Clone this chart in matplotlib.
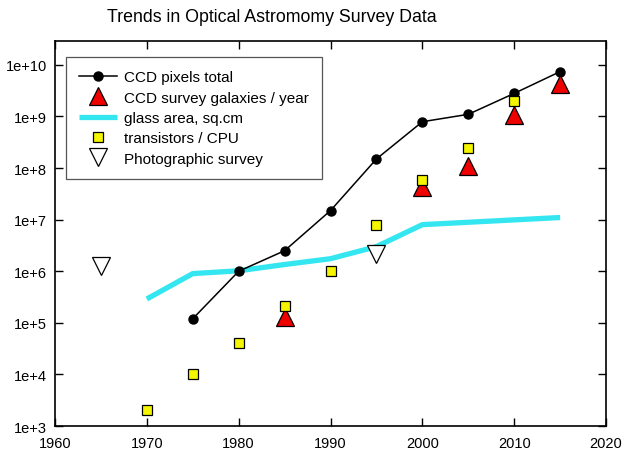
import matplotlib.pyplot as plt
from matplotlib.ticker import FixedLocator

plt.rcParams['font.family'] = ['Liberation Sans', 'DejaVu Sans']

ccd_years = [1975, 1980, 1985, 1990, 1995, 2000, 2005, 2010, 2015]
ccd_pixels = [1.2e5, 1.0e6, 2.5e6, 1.5e7, 1.5e8, 7.9e8, 1.1e9, 2.8e9, 7.4e9]

gal_years = [1985, 2000, 2005, 2010, 2015]
gal_per_year = [1.3e5, 4.2e7, 1.08e8, 1.05e9, 4.2e9]

glass_years = [1970, 1975, 1980, 1985, 1990, 1995, 2000, 2015]
glass_area = [2.9e5, 9.0e5, 1.02e6, 1.35e6, 1.75e6, 3.0e6, 8.0e6, 1.1e7]

trans_years = [1970, 1975, 1980, 1985, 1990, 1995, 2000, 2005, 2010]
trans_cpu = [2.0e3, 1.0e4, 4.1e4, 2.1e5, 1.0e6, 8.0e6, 5.9e7, 2.4e8, 2.0e9]

photo_years = [1965, 1995]
photo_survey = [1.25e6, 2.2e6]

x_ticks = [1960, 1970, 1980, 1990, 2000, 2010, 2020]
y_exps = list(range(3, 11))

fig = plt.figure(figsize=(6.3, 4.6), dpi=100)
ax = fig.add_axes([0.0873, 0.0717, 0.8747, 0.837])

ax.plot(glass_years, glass_area, color='#33e6f0', lw=3.8, solid_capstyle='butt',
        label='glass area, sq.cm', zorder=2)
ax.plot(ccd_years, ccd_pixels, color='black', lw=1.1, marker='o', ms=6.5,
        label='CCD pixels total', zorder=3)
ax.plot(gal_years, gal_per_year, ls='none', marker='^', ms=13.5, mfc='#ee0000',
        mec='black', mew=0.9, label='CCD survey galaxies / year', zorder=4)
ax.plot(trans_years, trans_cpu, ls='none', marker='s', ms=7.5, mfc='#f5f500',
        mec='black', mew=0.9, label='transistors / CPU', zorder=5)
ax.plot(photo_years, photo_survey, ls='none', marker='v', ms=13.5, mfc='white',
        mec='black', mew=0.9, label='Photographic survey', zorder=4)

ax.set_yscale('log')
ax.set_xlim(1960, 2020)
ax.set_ylim(1e3, 2.9e10)
ax.xaxis.set_major_locator(FixedLocator(x_ticks))
ax.set_yticks([10.0 ** k for k in y_exps])
ax.set_yticklabels(['1e+%d' % k for k in y_exps])
ax.yaxis.set_minor_locator(FixedLocator([]))
ax.tick_params(direction='in', top=True, right=True, length=6, width=1,
               labelsize=10.5)
ax.tick_params(axis='x', pad=7)
ax.tick_params(axis='y', pad=6)
for s in ax.spines.values():
    s.set_linewidth(1.2)

handles, labels = ax.get_legend_handles_labels()
order = [1, 2, 0, 3, 4]
leg = ax.legend([handles[i] for i in order], [labels[i] for i in order],
                loc='upper left', bbox_to_anchor=(0.02, 0.958), borderaxespad=0,
                fontsize=11, fancybox=False, framealpha=1, edgecolor='#555555',
                handlelength=2.5, handletextpad=0.45, labelspacing=0.42,
                borderpad=0.85)
leg.get_frame().set_linewidth(0.9)

fig.text(0.432, 0.961, 'Trends in Optical Astromomy Survey Data', fontsize=12.8,
         ha='center', va='center')

fig.savefig('out.png', dpi=100)
